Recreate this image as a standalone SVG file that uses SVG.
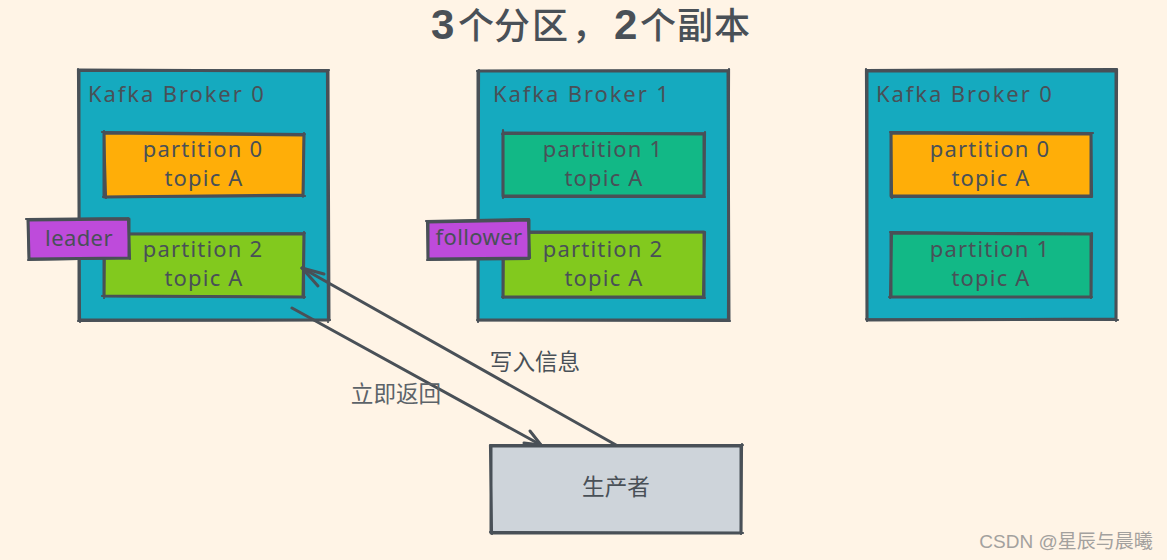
<svg xmlns="http://www.w3.org/2000/svg" width="1167" height="560" viewBox="0 0 1167 560">
<style>
.s{stroke:#495057;stroke-width:3;stroke-linejoin:round;stroke-linecap:round}
.o{fill:none;stroke:#495057;stroke-width:2.2;stroke-linejoin:round;stroke-linecap:round}
.broker{fill:#15aabf}.orange{fill:#ffae08}.teal{fill:#12b886}.lime{fill:#82c91e}.purple{fill:#be4bdb}.grey{fill:#ced4da}
text{fill:#495057;text-anchor:middle;font-family:"Noto Sans","Liberation Sans","Noto Sans CJK SC",sans-serif}
.t{font-size:22px;letter-spacing:1.2px}
.l{font-size:22px;letter-spacing:.4px}
.b{font-size:22px;letter-spacing:1.9px;text-anchor:start}
.c{font-family:"Noto Sans CJK SC",sans-serif;font-size:22.6px}
.d{font-size:42px;font-weight:700}
.line{fill:none;stroke:#495057;stroke-width:3;stroke-linecap:round;stroke-linejoin:round}
</style>
<rect width="1167" height="560" fill="#fff4e6"/>
<text id="title" y="39" style="font-family:'Liberation Sans','Noto Sans CJK SC',sans-serif;font-size:36px;font-weight:500;text-anchor:start"><tspan class="d" x="431">3</tspan><tspan x="458 494 532 572">个分区，</tspan><tspan class="d" x="614">2</tspan><tspan x="640 677 714">个副本</tspan></text>

<g id="broker0">
<path class="s broker" d="M79 70 L328 71 L329 320 L79 320 Z"/>
<path class="o" d="M78 71 L329 70 M327 70 L328 322 M330 320 L78 321 M80 322 L78 69"/>
<text class="b" x="88" y="102">Kafka Broker 0</text>
</g>
<g id="b0-partition0">
<path class="s orange" d="M104 133 L304 135 L303 195 L104 197 Z"/>
<path class="o" d="M102 132 L305 134 M304 133 L303 197 M305 196 L103 197 M106 198 L104 131"/>
<text class="t" x="203" y="157">partition 0</text><text class="t" x="204" y="186">topic A</text>
</g>
<g id="b0-partition2">
<path class="s lime" d="M104 234 L304 234 L303 297 L104 296 Z"/>
<path class="o" d="M102 234 L305 233 M304 232 L304 298 M305 297 L102 296 M104 298 L105 232"/>
<text class="t" x="203" y="257">partition 2</text><text class="t" x="204" y="286">topic A</text>
</g>
<g id="leader">
<path class="s purple" d="M28 220 L129 219 L129 258 L29 259 Z"/>
<path class="o" d="M26 219 L128 218 M128 218 L130 259 M130 258 L28 260 M29 260 L28 219"/>
<text class="l" x="79" y="246">leader</text>
</g>

<g id="broker1">
<path class="s broker" d="M478 71 L728 71 L729 320 L478 320 Z"/>
<path class="o" d="M477 71 L729 70 M729 69 L728 321 M730 321 L477 320 M478 322 L479 70"/>
<text class="b" x="493" y="102">Kafka Broker 1</text>
</g>
<g id="b1-partition1">
<path class="s teal" d="M503 133 L704 134 L704 196 L503 196 Z"/>
<path class="o" d="M502 134 L705 133 M705 132 L704 197 M705 197 L503 197 M503 198 L503 130"/>
<text class="t" x="603" y="157">partition 1</text><text class="t" x="604" y="186">topic A</text>
</g>
<g id="b1-partition2">
<path class="s lime" d="M503 232 L704 232 L704 297 L503 297 Z"/>
<path class="o" d="M502 233 L705 232 M705 232 L703 298 M705 298 L502 297 M503 298 L504 231"/>
<text class="t" x="603" y="257">partition 2</text><text class="t" x="604" y="286">topic A</text>
</g>
<g id="follower">
<path class="s purple" d="M428 222 L529 220 L529 258 L428 259 Z"/>
<path class="o" d="M426 221 L529 219 M528 220 L530 258 M529 259 L427 260 M428 260 L427 221"/>
<text class="l" x="479" y="245">follower</text>
</g>

<g id="broker2">
<path class="s broker" d="M867 71 L1116 71 L1116 319 L867 320 Z"/>
<path class="o" d="M866 70 L1117 69 M1117 69 L1116 321 M1118 320 L866 319 M867 321 L866 69"/>
<text class="b" x="876" y="102">Kafka Broker 0</text>
</g>
<g id="b2-partition0">
<path class="s orange" d="M891 133 L1091 134 L1091 196 L891 196 Z"/>
<path class="o" d="M890 132 L1093 133 M1091 133 L1092 197 M1092 197 L891 197 M892 198 L891 132"/>
<text class="t" x="990" y="157">partition 0</text><text class="t" x="991" y="186">topic A</text>
</g>
<g id="b2-partition1">
<path class="s teal" d="M891 233 L1091 234 L1091 297 L891 297 Z"/>
<path class="o" d="M890 232 L1092 234 M1092 233 L1091 298 M1092 297 L889 297 M890 298 L892 232"/>
<text class="t" x="990" y="257">partition 1</text><text class="t" x="991" y="286">topic A</text>
</g>

<g id="producer">
<path class="s grey" d="M491 446 L741 446 L741 533 L491 533 Z"/>
<path class="o" d="M490 445 L743 445 M742 444 L741 534 M743 533 L490 532 M492 534 L490 445"/>
<text class="c" x="616" y="495">生产者</text>
</g>

<g id="connectors">
<path class="line" d="M616 445 L302 268"/>
<path class="line" d="M302 268 L324 274 M302 268 L318 286"/>
<path class="line" d="M292 308 L541 445"/>
<path class="line" d="M541 445 L524 443 M541 445 L530 431"/>
</g>
<text id="label-write" class="c" x="535" y="370">写入信息</text>
<text id="label-return" class="c" x="396" y="402" style="fill:#5c6369">立即返回</text>
<text id="watermark" x="1066" y="548" style="font-family:'Liberation Sans','Noto Sans CJK SC',sans-serif;font-size:19px;fill:#a3a19e">CSDN @星辰与晨曦</text>
</svg>
